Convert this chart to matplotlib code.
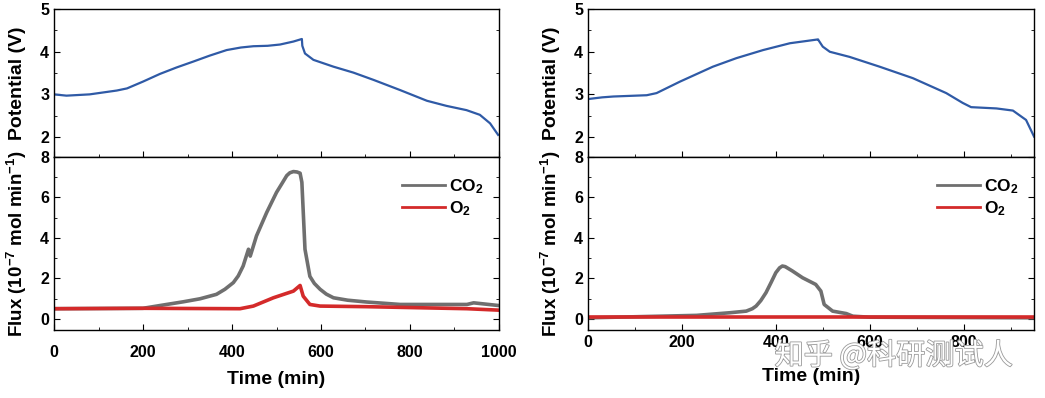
"""
Potential and gas flux (CO2 / O2) vs time for two cells, side by side.
Saves out.png.
"""
import matplotlib
matplotlib.use("Agg")
import matplotlib.pyplot as plt
import matplotlib.patheffects as pe

plt.rcParams["font.family"] = ["Liberation Sans", "DejaVu Sans"]
plt.rcParams["font.weight"] = "bold"
plt.rcParams["axes.labelweight"] = "bold"
plt.rcParams["mathtext.fontset"] = "custom"
plt.rcParams["mathtext.rm"] = "Liberation Sans:bold"
plt.rcParams["mathtext.bf"] = "Liberation Sans:bold"
plt.rcParams["mathtext.it"] = "Liberation Sans:bold"

# ---- left cell ----
left_v_t = [0, 28, 80, 141, 164, 200, 238, 275, 313, 350, 388, 420, 448, 480, 508,
            538, 557, 558, 564, 583, 628, 673, 718, 778, 838, 882, 927, 957, 980, 998]
left_v = [3.00, 2.97, 3.00, 3.09, 3.14, 3.30, 3.48, 3.63, 3.77, 3.91, 4.04, 4.10, 4.13, 4.14,
          4.17, 4.24, 4.30, 4.14, 3.96, 3.81, 3.65, 3.51, 3.34, 3.10, 2.85, 2.73, 2.63,
          2.52, 2.32, 2.05]

left_co2_t = [0, 200, 253, 290, 328, 365, 384, 403, 414, 425, 437, 441, 455, 478, 500, 512,
              523, 530, 538, 546, 553, 557, 564, 575, 585, 598, 612, 628, 660, 703, 778,
              850, 928, 943, 998]
left_co2 = [0.50, 0.52, 0.71, 0.84, 0.99, 1.21, 1.46, 1.79, 2.12, 2.61, 3.44, 3.10, 4.10,
            5.26, 6.25, 6.68, 7.08, 7.22, 7.28, 7.26, 7.20, 6.75, 3.44, 2.10, 1.75, 1.46,
            1.22, 1.04, 0.92, 0.83, 0.71, 0.71, 0.71, 0.79, 0.66]

left_o2_t = [0, 200, 418, 448, 493, 538, 553, 560, 575, 598, 703, 928, 998]
left_o2 = [0.50, 0.52, 0.50, 0.63, 1.04, 1.37, 1.65, 1.12, 0.71, 0.63, 0.60, 0.50, 0.43]

# ---- right cell ----
right_v_t = [0, 30, 54, 125, 146, 196, 266, 316, 373, 430, 490, 491, 500, 515, 557, 621,
             692, 763, 798, 816, 870, 905, 933, 950]
right_v = [2.89, 2.93, 2.95, 2.98, 3.03, 3.30, 3.65, 3.85, 4.04, 4.20, 4.29, 4.27, 4.12,
           4.00, 3.88, 3.65, 3.38, 3.03, 2.80, 2.70, 2.67, 2.62, 2.40, 2.01]

right_co2_t = [0, 231, 302, 337, 350, 358, 368, 379, 390, 400, 408, 414, 420, 435, 457,
               485, 496, 503, 521, 550, 564, 600, 950]
right_co2 = [0.05, 0.17, 0.30, 0.38, 0.50, 0.63, 0.90, 1.29, 1.80, 2.28, 2.52, 2.61, 2.58,
             2.37, 2.03, 1.70, 1.37, 0.71, 0.38, 0.26, 0.13, 0.08, 0.05]

right_o2_t = [0, 950]
right_o2 = [0.07, 0.07]

BLUE = "#2f5aa6"
GRAY = "#6f6f6f"
RED = "#d42a2a"


def style(ax):
    ax.tick_params(direction="in", which="both", right=True, labelsize=11.5)
    ax.tick_params(which="major", length=4)
    ax.tick_params(which="minor", length=2.5)
    for s in ax.spines.values():
        s.set_linewidth(1.0)


def draw(fig, x0, w, vt, v, ct, co2, ot, o2, xmax, xticks, xlab_pad, xlabel_y, ylab_x):
    top = fig.add_axes([x0, 0.6055, w, 0.3715])
    bot = fig.add_axes([x0, 0.171, w, 0.4345], sharex=top)

    top.plot(vt, v, color=BLUE, lw=1.6)
    top.set_ylim(1.53, 5)
    top.set_yticks([2, 3, 4, 5])
    top.set_yticks([2.5, 3.5, 4.5], minor=True)
    top.set_ylabel("Potential (V)", fontsize=14, va="center")
    top.yaxis.set_label_coords(ylab_x, 0.5)
    style(top)
    top.tick_params(labelbottom=False, right=False)

    bot.plot(ct, co2, color=GRAY, lw=2.6, label="CO$_2$")
    bot.plot(ot, o2, color=RED, lw=2.6, label="O$_2$")
    bot.set_ylim(-0.55, 8)
    bot.set_yticks([0, 2, 4, 6, 8])
    bot.set_yticks([1, 3, 5, 7], minor=True)
    bot.set_xlim(0, xmax)
    bot.set_xticks(xticks)
    bot.set_xticks([t + 100 for t in xticks if t + 100 < xmax], minor=True)
    bot.set_xlabel("Time (min)", fontsize=14, va="center")
    bot.xaxis.set_label_coords(0.5, xlabel_y)
    bot.set_ylabel("Flux (10$^{-7}$ mol min$^{-1}$)", fontsize=13.5, va="center")
    bot.yaxis.set_label_coords(ylab_x, 0.5)
    style(bot)
    bot.tick_params(axis="x", which="major", pad=xlab_pad)
    leg = bot.legend(loc="upper right", bbox_to_anchor=(1.0, 0.975), frameon=False,
                     fontsize=12.5, handlelength=2.5, handletextpad=0.2, labelspacing=0.2)
    for line in leg.get_lines():
        line.set_linewidth(2.0)
    return top, bot


fig = plt.figure(figsize=(10.45, 3.98), dpi=100)
draw(fig, 0.0517, 0.4258, left_v_t, left_v, left_co2_t, left_co2, left_o2_t, left_o2,
     1000, [0, 200, 400, 600, 800, 1000], 11, -0.289, -0.083)
draw(fig, 0.5627, 0.4268, right_v_t, right_v, right_co2_t, right_co2, right_o2_t, right_o2,
     950, [0, 200, 400, 600, 800], 4, -0.272, -0.082)

fig.text(0.855, 0.105, "知乎 @科研测试人", fontsize=21, color="white", ha="center", va="center",
         family=["Noto Sans CJK SC", "DejaVu Sans"], weight="normal",
         path_effects=[pe.withStroke(linewidth=1.2, foreground="#9a9a9a")])

fig.savefig("out.png", dpi=100)
